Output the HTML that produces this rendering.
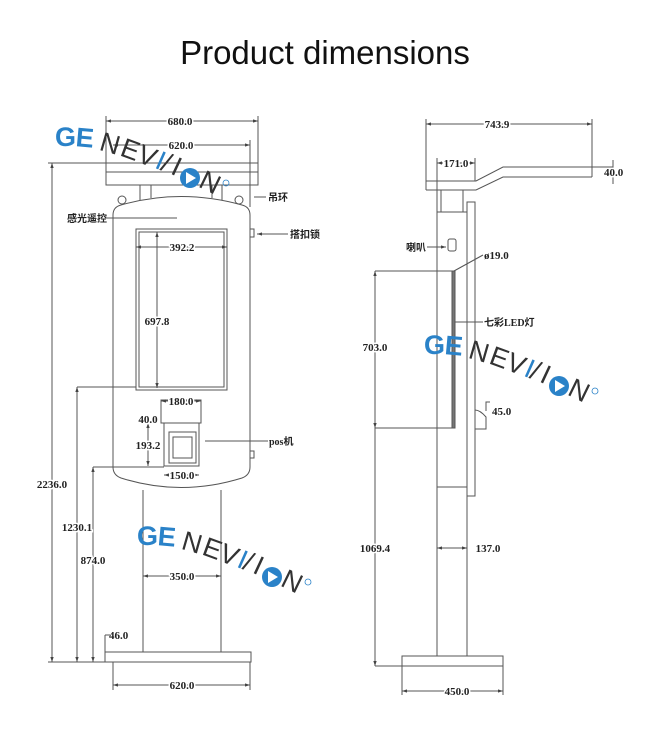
<!DOCTYPE html>
<html><head><meta charset="utf-8"><style>
html,body{margin:0;padding:0;background:#fff;}
svg{display:block;}
.t{font-family:"Liberation Serif","Noto Serif CJK SC",serif;font-size:11px;fill:#222;font-weight:bold;}
.c{font-family:"Liberation Serif","Noto Sans CJK SC",sans-serif;font-size:10px;fill:#222;font-weight:bold;}
.lg{font-family:"Liberation Sans",sans-serif;font-size:27px;fill:#333;}
.lb{fill:#2a82c8;}
</style></head><body>
<svg width="650" height="738" viewBox="0 0 650 738" xmlns="http://www.w3.org/2000/svg">
<defs>
<marker id="a" viewBox="0 0 6 6" refX="6" refY="3" markerWidth="5" markerHeight="5" orient="auto-start-reverse"><path d="M0,1 L6,3 L0,5 z" fill="#444"/></marker>
<g id="logo">
<text class="lg lb" x="0" y="21" font-size="30" font-weight="bold">G</text>
<text class="lg lb" x="21" y="22" font-size="30" font-weight="bold" transform="rotate(5 30 12)">E</text>
<text class="lg" x="45" y="28" transform="rotate(16 56 20)">N</text>
<text class="lg" x="66" y="34" transform="rotate(20 76 26)">E</text>
<text class="lg" x="83" y="40" transform="rotate(22 92 32)">V</text>
<text class="lg lb" x="101" y="45" transform="rotate(24 106 38)">I</text>
<text class="lg" x="107" y="48" transform="rotate(24 114 40)">/</text>
<text class="lg" x="117" y="51" transform="rotate(25 122 44)">I</text>
<circle cx="135" cy="53" r="10" fill="#2a82c8"/>
<path d="M131,47 L141,53 L131,59 z" fill="#fff"/>
<text class="lg" x="145" y="66" transform="rotate(26 154 58)">N</text>
<circle cx="171" cy="58" r="3" fill="none" stroke="#2a82c8" stroke-width="0.8"/>
</g>
</defs>
<text x="325" y="64" text-anchor="middle" font-family="Liberation Sans, sans-serif" font-size="33" fill="#111">Product dimensions</text>

<g stroke="#555" stroke-width="1" fill="none">
<rect x="106" y="163" width="152" height="22"/>
<line x1="106" y1="172" x2="258" y2="172"/>
<line x1="140" y1="185" x2="140" y2="200"/><line x1="151" y1="185" x2="151" y2="198"/>
<line x1="212" y1="185" x2="212" y2="198"/><line x1="222" y1="185" x2="222" y2="200"/>
<path d="M113,215 Q113,207 121,205 Q181,188 242,205 Q250,207 250,215 L250,467 Q250,475 242,478 Q181,497 121,478 Q113,475 113,467 Z"/>
<circle cx="122" cy="200" r="4"/><circle cx="239" cy="200" r="4"/>
<rect x="136" y="229" width="91" height="161"/>
<rect x="139" y="232" width="85" height="155"/>
<rect x="161" y="400" width="40" height="23"/>
<rect x="164" y="423" width="35" height="43"/>
<rect x="169" y="432" width="27" height="31"/>
<rect x="173" y="437" width="19" height="21"/>
<rect x="250" y="229" width="4" height="8"/>
<rect x="250" y="451" width="4" height="7"/>
<line x1="143" y1="490" x2="143" y2="652"/><line x1="221" y1="490" x2="221" y2="652"/>
<rect x="105" y="652" width="146" height="10"/>
<line x1="106" y1="121" x2="258" y2="121" marker-start="url(#a)" marker-end="url(#a)"/>
<line x1="106" y1="116" x2="106" y2="163"/><line x1="258" y1="116" x2="258" y2="163"/>
<line x1="113" y1="145" x2="250" y2="145" marker-start="url(#a)" marker-end="url(#a)"/>
<line x1="250" y1="140" x2="250" y2="207"/>
<line x1="136" y1="247" x2="227" y2="247" marker-start="url(#a)" marker-end="url(#a)"/>
<line x1="157" y1="232" x2="157" y2="388" marker-start="url(#a)" marker-end="url(#a)"/>
<line x1="52" y1="163" x2="52" y2="662" marker-start="url(#a)" marker-end="url(#a)"/>
<line x1="48" y1="163" x2="106" y2="163"/>
<line x1="48" y1="662" x2="105" y2="662"/>
<line x1="77" y1="387" x2="77" y2="662" marker-start="url(#a)" marker-end="url(#a)"/>
<line x1="77" y1="387" x2="136" y2="387"/>
<line x1="93" y1="467" x2="93" y2="662" marker-start="url(#a)" marker-end="url(#a)"/>
<line x1="93" y1="467" x2="164" y2="467"/>
<line x1="148" y1="423" x2="148" y2="466" marker-start="url(#a)" marker-end="url(#a)"/>
<line x1="105" y1="635" x2="105" y2="662"/><line x1="105" y1="635" x2="110" y2="635"/>
<line x1="143" y1="576" x2="221" y2="576" marker-start="url(#a)" marker-end="url(#a)"/>
<line x1="113" y1="685" x2="250" y2="685" marker-start="url(#a)" marker-end="url(#a)"/>
<line x1="113" y1="662" x2="113" y2="690"/><line x1="250" y1="662" x2="250" y2="690"/>
<line x1="164" y1="475" x2="199" y2="475" marker-start="url(#a)" marker-end="url(#a)"/>
<line x1="161" y1="401" x2="201" y2="401" marker-start="url(#a)" marker-end="url(#a)"/>
<line x1="205" y1="441" x2="268" y2="441"/>
<line x1="254" y1="197" x2="266" y2="197"/>
<line x1="106" y1="218" x2="177" y2="218"/>
<line x1="257" y1="234" x2="288" y2="234" marker-start="url(#a)"/>

<path d="M426,181 L476,181 L503,167 L613,167 M426,190 L476,190 L503,177 L592,177"/>
<line x1="426" y1="181" x2="426" y2="190"/>
<line x1="441" y1="190" x2="441" y2="212"/><line x1="463" y1="190" x2="463" y2="212"/>
<line x1="437" y1="212" x2="467" y2="212"/>
<line x1="437" y1="190" x2="437" y2="656"/><line x1="467" y1="202" x2="467" y2="656"/>
<rect x="467" y="202" width="8" height="294"/>
<line x1="437" y1="487" x2="467" y2="487"/>
<rect x="452" y="271" width="3" height="157" fill="#777"/>
<line x1="375" y1="271" x2="452" y2="271"/>
<line x1="375" y1="428" x2="452" y2="428"/>
<line x1="375" y1="271" x2="375" y2="428" marker-start="url(#a)" marker-end="url(#a)"/>
<line x1="375" y1="428" x2="375" y2="666" marker-end="url(#a)"/>
<line x1="375" y1="666" x2="402" y2="666"/>
<rect x="402" y="656" width="101" height="10"/>
<line x1="402" y1="666" x2="402" y2="695"/><line x1="503" y1="666" x2="503" y2="695"/>
<line x1="402" y1="691" x2="503" y2="691" marker-start="url(#a)" marker-end="url(#a)"/>
<line x1="437" y1="548" x2="467" y2="548" marker-start="url(#a)" marker-end="url(#a)"/>
<line x1="426" y1="124" x2="592" y2="124" marker-start="url(#a)" marker-end="url(#a)"/>
<line x1="426" y1="119" x2="426" y2="181"/><line x1="592" y1="119" x2="592" y2="177"/>
<line x1="437" y1="163" x2="475" y2="163" marker-start="url(#a)" marker-end="url(#a)"/>
<line x1="437" y1="158" x2="437" y2="190"/><line x1="475" y1="158" x2="475" y2="181"/>
<line x1="613" y1="160" x2="613" y2="184"/>
<rect x="448" y="239" width="8" height="12" rx="2"/>
<line x1="427" y1="247" x2="446" y2="247" marker-end="url(#a)"/>
<line x1="454" y1="271" x2="483" y2="255"/>
<line x1="455" y1="322" x2="483" y2="322"/>
<path d="M475,429 L486,429 L486,417 Q480,410 475,410 M486,411 L486,402 L490,402"/>
</g>

<text class="t" x="180" y="125" text-anchor="middle" font-size="10" style="paint-order:stroke" stroke="#fff" stroke-width="3">680.0</text>
<text class="t" x="181" y="149" text-anchor="middle" font-size="10" style="paint-order:stroke" stroke="#fff" stroke-width="3">620.0</text>
<text class="t" x="182" y="251" text-anchor="middle" style="paint-order:stroke" stroke="#fff" stroke-width="3">392.2</text>
<text class="t" x="157" y="325" text-anchor="middle" style="paint-order:stroke" stroke="#fff" stroke-width="3">697.8</text>
<text class="t" x="181" y="405" text-anchor="middle" font-size="10" style="paint-order:stroke" stroke="#fff" stroke-width="3">180.0</text>
<text class="t" x="148" y="423" text-anchor="middle" font-size="10" style="paint-order:stroke" stroke="#fff" stroke-width="3">40.0</text>
<text class="t" x="148" y="449" text-anchor="middle" font-size="10" style="paint-order:stroke" stroke="#fff" stroke-width="3">193.2</text>
<text class="t" x="182" y="479" text-anchor="middle" font-size="10" style="paint-order:stroke" stroke="#fff" stroke-width="3">150.0</text>
<text class="t" x="52" y="488" text-anchor="middle" font-size="10" style="paint-order:stroke" stroke="#fff" stroke-width="3">2236.0</text>
<text class="t" x="77" y="531" text-anchor="middle" font-size="10" style="paint-order:stroke" stroke="#fff" stroke-width="3">1230.1</text>
<text class="t" x="93" y="564" text-anchor="middle" font-size="10" style="paint-order:stroke" stroke="#fff" stroke-width="3">874.0</text>
<text class="t" x="182" y="580" text-anchor="middle" font-size="10" style="paint-order:stroke" stroke="#fff" stroke-width="3">350.0</text>
<text class="t" x="109" y="639" font-size="10">46.0</text>
<text class="t" x="182" y="689" text-anchor="middle" font-size="10" style="paint-order:stroke" stroke="#fff" stroke-width="3">620.0</text>
<text class="c" x="268" y="201">吊环</text>
<text class="c" x="67" y="222">感光遥控</text>
<text class="c" x="290" y="238">搭扣锁</text>
<text class="c" x="269" y="445">pos机</text>

<text class="t" x="497" y="128" text-anchor="middle" font-size="10" style="paint-order:stroke" stroke="#fff" stroke-width="3">743.9</text>
<text class="t" x="456" y="167" text-anchor="middle" font-size="10" style="paint-order:stroke" stroke="#fff" stroke-width="3">171.0</text>
<text class="t" x="604" y="176" font-size="10" style="paint-order:stroke" stroke="#fff" stroke-width="3">40.0</text>
<text class="c" x="406" y="251">喇叭</text>
<text class="t" x="484" y="259" font-size="10">ø19.0</text>
<text class="c" x="484" y="326">七彩LED灯</text>
<text class="t" x="375" y="351" text-anchor="middle" font-size="10" style="paint-order:stroke" stroke="#fff" stroke-width="3">703.0</text>
<text class="t" x="492" y="415" font-size="10">45.0</text>
<text class="t" x="375" y="552" text-anchor="middle" font-size="10" style="paint-order:stroke" stroke="#fff" stroke-width="3">1069.4</text>
<text class="t" x="488" y="552" text-anchor="middle" font-size="10">137.0</text>
<text class="t" x="457" y="695" text-anchor="middle" font-size="10" style="paint-order:stroke" stroke="#fff" stroke-width="3">450.0</text>

<use href="#logo" x="55" y="125"/>
<use href="#logo" x="137" y="524"/>
<use href="#logo" x="424" y="333"/>
</svg>
</body></html>
